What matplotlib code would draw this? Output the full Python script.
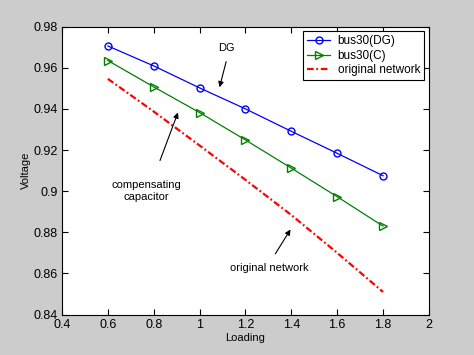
import matplotlib.pyplot as plt

loading = [0.6, 0.8, 1.0, 1.2, 1.4, 1.6, 1.8]
v_dg = [0.9706, 0.9609, 0.9502, 0.9400, 0.9291, 0.9184, 0.9075]
v_cap = [0.9635, 0.9507, 0.9382, 0.9249, 0.9112, 0.8973, 0.8830]
v_orig = [0.9546, 0.9387, 0.9222, 0.9055, 0.8884, 0.8700, 0.8510]

xticks = [0.4, 0.6, 0.8, 1.0, 1.2, 1.4, 1.6, 1.8, 2.0]
xlabels = ["0.4", "0.6", "0.8", "1", "1.2", "1.4", "1.6", "1.8", "2"]
yticks = [0.84, 0.86, 0.88, 0.90, 0.92, 0.94, 0.96, 0.98]
ylabels = ["0.84", "0.86", "0.88", "0.9", "0.92", "0.94", "0.96", "0.98"]

plt.rcParams['font.family'] = ['Liberation Sans', 'DejaVu Sans']

fig = plt.figure(figsize=(4.74, 3.55), dpi=100, facecolor="#cccccc")
ax = fig.add_axes([0.1308, 0.114, 0.774, 0.811])

ax.plot(loading, v_dg, color="#0000ff", lw=0.9, marker="o", ms=5,
        mfc="none", mec="#0000ff", label="bus30(DG)")
ax.plot(loading, v_cap, color="#008000", lw=0.9, marker=">", ms=5.5,
        mfc="none", mec="#008000", label="bus30(C)")
ax.plot(loading, v_orig, color="#ff0000", lw=1.6, ls=(0, (3, 1.2, 0.8, 1.2)),
        label="original network")

ax.set_xlim(0.4, 2.0)
ax.set_ylim(0.84, 0.98)
ax.set_xticks(xticks)
ax.set_xticklabels(xlabels)
ax.set_yticks(yticks)
ax.set_yticklabels(ylabels)
ax.tick_params(direction="in", top=True, right=True, labelsize=9, length=4, width=0.8, pad=3)
for s in ax.spines.values():
    s.set_linewidth(0.8)
ax.set_xlabel("Loading", fontsize=8, labelpad=2)
ax.set_ylabel("Voltage", fontsize=8, labelpad=2)

leg = ax.legend(loc="upper right", fontsize=8.5, frameon=True, fancybox=False,
                edgecolor="black", framealpha=1, handlelength=2.0,
                borderpad=0.35, labelspacing=0.2, handletextpad=0.6,
                borderaxespad=0.4)
leg.get_frame().set_linewidth(0.8)

arrow = dict(arrowstyle="-|>", color="black", lw=0.8, mutation_scale=8)
ax.text(1.115, 0.9696, "DG", fontsize=8, ha="center", va="center")
ax.annotate("", xy=(1.084, 0.9492), xytext=(1.119, 0.9643), arrowprops=arrow)
ax.text(0.766, 0.900, "compensating\ncapacitor", fontsize=8, ha="center",
        va="center", linespacing=1.2)
ax.annotate("", xy=(0.91, 0.9395), xytext=(0.823, 0.9136), arrowprops=arrow)
ax.text(1.302, 0.8626, "original network", fontsize=8, ha="center", va="center")
ax.annotate("", xy=(1.403, 0.8825), xytext=(1.324, 0.8684), arrowprops=arrow)

fig.savefig("out.png", dpi=100, facecolor=fig.get_facecolor())
